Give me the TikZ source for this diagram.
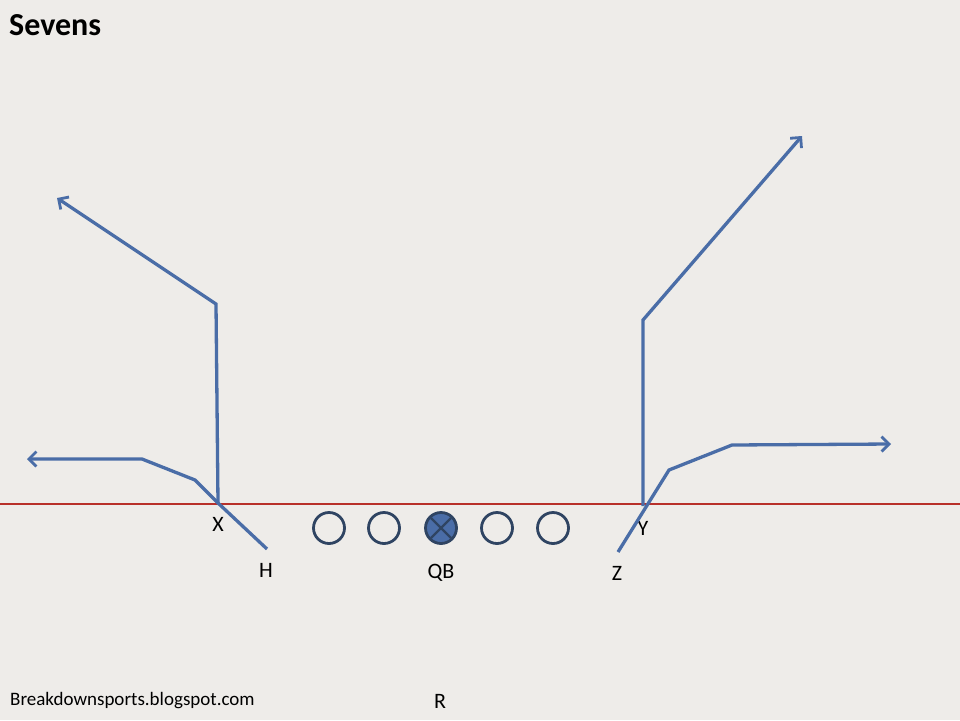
\documentclass[tikz,border=0pt]{standalone}
\usepackage{fontspec}
\setmainfont{Carlito}
\usetikzlibrary{arrows.meta,calc}
\definecolor{bg}{HTML}{EEECE9}
\definecolor{route}{HTML}{4A6DA7}
\definecolor{navy}{HTML}{2F4462}
\definecolor{los}{HTML}{B8302A}
\tikzset{
  routeline/.style={draw=route, line width=3.3pt, line join=miter},
  arrowend/.style={-{Straight Barb[length=7.5pt,width=15pt,line width=2.8pt]}},
  player/.style={circle, draw=navy, line width=2.8pt, minimum size=31pt, inner sep=0pt},
  lbl/.style={font=\fontsize{22}{26}\selectfont, inner sep=0pt, anchor=center},
}
\begin{document}
\begin{tikzpicture}[x=1pt,y=-1pt]
\useasboundingbox[fill=bg] (0,0) rectangle (960,720);
% line of scrimmage
\coordinate (losL) at (0,504);
\coordinate (losR) at (960,504);
\draw[los, line width=1.1pt] (losL) -- (losR);
% title and footer
\node[font=\fontsize{32}{36}\selectfont\bfseries, anchor=west, inner sep=0pt] (title) at (9,25) {Sevens};
\node[font=\fontsize{19}{23}\selectfont, anchor=west, inner sep=0pt] (footer) at (10,701) {Breakdownsports.blogspot.com};
% players
\node[player] (c1) at (329,528) {};
\node[player] (c2) at (384,528) {};
\node[player, fill=route] (qb) at (441,528) {};
\draw[navy, line width=2.4pt] ($(qb.center)+(-10,-10)$) -- ($(qb.center)+(10,10)$);
\draw[navy, line width=2.4pt] ($(qb.center)+(-10,10)$) -- ($(qb.center)+(10,-10)$);
\node[player] (c4) at (497,528) {};
\node[player] (c5) at (553,528) {};
% labels
\node[lbl] (lx) at (218,524) {X};
\node[lbl] (lh) at (266,570) {H};
\node[lbl] (lqb) at (441,573) {QB};
\node[lbl] (ly) at (643,528) {Y};
\node[lbl] (lz) at (617,573) {Z};
\node[lbl] (lr) at (440,701) {R};
% route points
\coordinate (X) at (218,503);
\coordinate (X1) at (216,304);
\coordinate (X2) at (57,198);
\coordinate (H) at (267,549);
\coordinate (H1) at (195,480);
\coordinate (H2) at (142,459);
\coordinate (H3) at (27,459);
\coordinate (Y) at (643,506);
\coordinate (Y1) at (643,320);
\coordinate (Y2) at (802,136);
\coordinate (Z) at (618,552);
\coordinate (Z1) at (669,470);
\coordinate (Z2) at (732,445);
\coordinate (Z3) at (891,444);
% routes
\draw[routeline, arrowend] (X) -- (X1) -- (X2);
\draw[routeline, arrowend] (H) -- (X) -- (H1) -- (H2) -- (H3);
\draw[routeline, arrowend] (Y) -- (Y1) -- (Y2);
\draw[routeline, arrowend] (Z) -- (Z1) -- (Z2) -- (Z3);
\end{tikzpicture}
\end{document}
